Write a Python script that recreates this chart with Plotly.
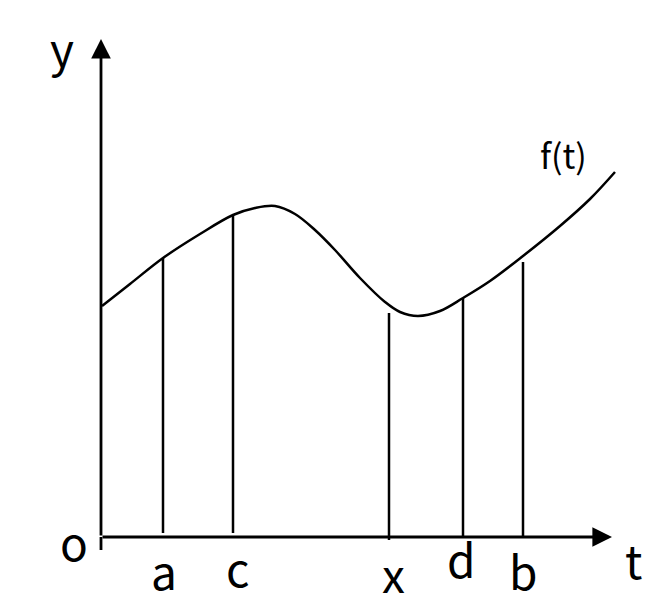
import plotly.graph_objects as go

# curve f(t)
t_curve = [0.1, 2.9, 6.2, 9.9, 13.2, 15.4, 17.4, 19.4, 21.4, 23.4, 25.9, 28.4, 29.9,
           31.7, 33.9, 36.2, 38.9, 42.2, 45.9, 48.9, 51.4]
y_curve = [23.1, 25.3, 27.9, 30.3, 32.2, 32.9, 33.1, 32.3, 30.7, 28.7, 25.9, 23.5, 22.5,
           22.1, 22.6, 23.9, 25.6, 28.1, 31.1, 33.8, 36.5]

# vertical segments
seg_names = ["a", "c", "x", "d", "b"]
seg_t = [6.2, 13.2, 28.8, 36.2, 42.2]
seg_bottom = [0.4, 0.4, -0.3, 0.0, 0.0]
seg_top = [27.9, 32.2, 22.4, 23.9, 27.5]

# labels
label_text = ["o", "a", "c", "x", "d", "b", "t", "y"]
label_t = [-2.7, 6.3, 13.6, 29.2, 36.0, 42.2, 53.2, -3.9]
label_y = [-0.4, -3.3, -3.0, -3.6, -2.1, -3.3, -2.2, 49.0]
curve_label = "f(t)"
curve_label_pos = (46.2, 38.3)

# axes extents
x_axis_end = 51.1
y_axis_end = 49.8
y_axis_start = -1.3

FONT = "Noto Sans CJK JP"

fig = go.Figure()
fig.add_trace(go.Scatter(x=t_curve, y=y_curve, mode="lines",
                         line=dict(color="black", width=2.5, shape="spline", smoothing=1.0),
                         hoverinfo="skip"))
for name, tx, yb, yt in zip(seg_names, seg_t, seg_bottom, seg_top):
    fig.add_trace(go.Scatter(x=[tx, tx], y=[yb, yt], mode="lines",
                             line=dict(color="black", width=2.5), hoverinfo="skip"))

# y axis lower stub
fig.add_trace(go.Scatter(x=[0, 0], y=[y_axis_start, 0], mode="lines",
                         line=dict(color="black", width=2.8), hoverinfo="skip"))

# axis arrows
fig.add_annotation(x=x_axis_end, y=0, ax=0, ay=0, xref="x", yref="y", axref="x", ayref="y",
                   text="", showarrow=True, arrowhead=2, arrowsize=1.4, arrowwidth=2.8,
                   arrowcolor="black")
fig.add_annotation(x=0, y=y_axis_end, ax=0, ay=0, xref="x", yref="y", axref="x", ayref="y",
                   text="", showarrow=True, arrowhead=2, arrowsize=1.4, arrowwidth=2.8,
                   arrowcolor="black")

for txt, lx, ly in zip(label_text, label_t, label_y):
    fig.add_annotation(x=lx, y=ly, text=txt, showarrow=False, xanchor="center", yanchor="middle",
                       font=dict(family=FONT, size=46, color="black"))
fig.add_annotation(x=curve_label_pos[0], y=curve_label_pos[1], text=curve_label, showarrow=False,
                   xanchor="center", yanchor="middle",
                   font=dict(family=FONT, size=34, color="black"))

fig.update_xaxes(range=[-9.3, 56.1], visible=False)
fig.update_yaxes(range=[-6.9, 52.9], visible=False)
fig.update_layout(width=654, height=598, margin=dict(l=0, r=0, t=0, b=0),
                  plot_bgcolor="white", paper_bgcolor="white", showlegend=False)

fig.write_html("out.html")
